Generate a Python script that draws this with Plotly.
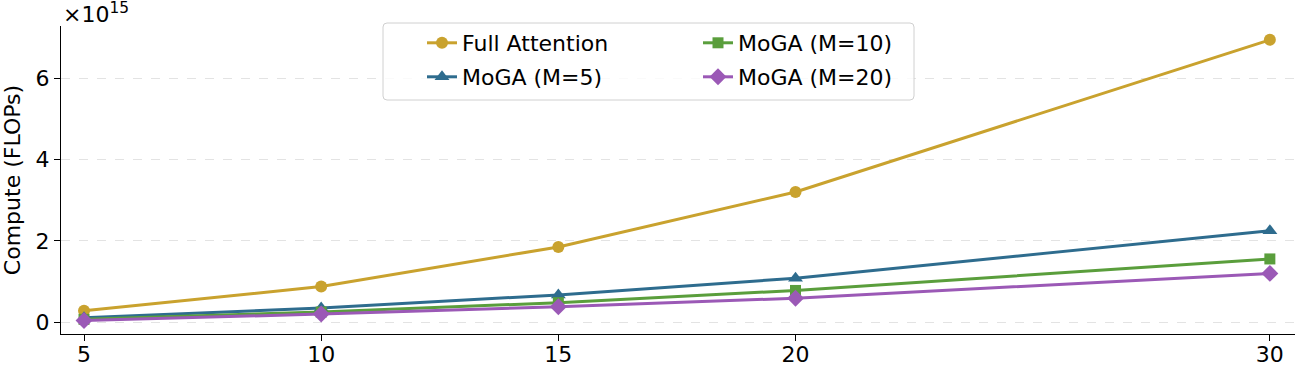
import plotly.graph_objects as go

x_vals = [5, 10, 15, 20, 30]
full_attention = [0.28, 0.875, 1.85, 3.2, 6.94]
moga_m5 = [0.11, 0.35, 0.67, 1.08, 2.25]
moga_m10 = [0.07, 0.25, 0.48, 0.78, 1.555]
moga_m20 = [0.04, 0.20, 0.38, 0.59, 1.20]
x_ticks = [5, 10, 15, 20, 30]
y_ticks = [0, 2, 4, 6]

names = ["Full Attention", "MoGA (M=5)", "MoGA (M=10)", "MoGA (M=20)"]
series = [full_attention, moga_m5, moga_m10, moga_m20]
colors = ["#C9A22E", "#2E6C8E", "#5A9E3C", "#9B59B6"]
symbols = ["circle", "triangle-up", "square", "diamond"]
msizes = [12, 13, 11, 13]
legends = ["legend", "legend3", "legend2", "legend4"]

FONT = "DejaVu Sans"
fig = go.Figure()
for n, s, c, sym, ms, lg in zip(names, series, colors, symbols, msizes, legends):
    fig.add_trace(go.Scatter(
        x=x_vals, y=s, name=n, mode="lines+markers",
        line=dict(color=c, width=3),
        marker=dict(symbol=sym, size=ms, color=c),
        legend=lg,
    ))

W, H = 1297, 367
L, R, T, B = 61, 2, 26, 33
pw, ph = W - L - R, H - T - B

def px_x(p):
    return (p - L) / pw

def px_y(p):
    return (H - B - p) / ph

def rounded_box(x0, y0, x1, y1, r):
    # pixel box -> paper-coordinate SVG path with rounded corners
    X = px_x
    Y = px_y
    return (f"M {X(x0 + r)},{Y(y0)} L {X(x1 - r)},{Y(y0)} "
            f"Q {X(x1)},{Y(y0)} {X(x1)},{Y(y0 + r)} L {X(x1)},{Y(y1 - r)} "
            f"Q {X(x1)},{Y(y1)} {X(x1 - r)},{Y(y1)} L {X(x0 + r)},{Y(y1)} "
            f"Q {X(x0)},{Y(y1)} {X(x0)},{Y(y1 - r)} L {X(x0)},{Y(y0 + r)} "
            f"Q {X(x0)},{Y(y0)} {X(x0 + r)},{Y(y0)} Z")

leg_common = dict(bgcolor="rgba(0,0,0,0)", borderwidth=0,
                  font=dict(family=FONT, size=22, color="black"),
                  xanchor="left", yanchor="middle", itemwidth=30)

fig.update_layout(
    width=W, height=H,
    margin=dict(l=L, r=R, t=T, b=B, autoexpand=False),
    paper_bgcolor="white", plot_bgcolor="white",
    font=dict(family=FONT, size=22, color="black"),
    showlegend=True,
    legend=dict(x=px_x(422), y=px_y(43), **leg_common),
    legend3=dict(x=px_x(422), y=px_y(77), **leg_common),
    legend2=dict(x=px_x(698), y=px_y(43), **leg_common),
    legend4=dict(x=px_x(698), y=px_y(77), **leg_common),
    xaxis=dict(
        range=[4.515, 30.53], tickvals=x_ticks, showgrid=False, zeroline=False,
        showline=True, linecolor="black", linewidth=1.2, automargin=False,
        ticks="outside", ticklen=6, tickwidth=1.2, tickcolor="black",
        ticklabelstandoff=-6,
        tickfont=dict(family=FONT, size=22, color="black"),
    ),
    yaxis=dict(
        range=[-0.29, 7.28], tickvals=y_ticks, zeroline=False, automargin=False,
        showgrid=True, gridcolor="#e3e3e3", gridwidth=1, griddash="dash",
        showline=True, linecolor="black", linewidth=1.2,
        ticks="outside", ticklen=6, tickwidth=1.2, tickcolor="black",
        tickfont=dict(family=FONT, size=22, color="black"),
        title=dict(text="Compute (FLOPs)", font=dict(family=FONT, size=22), standoff=8),
    ),
    shapes=[dict(type="path", xref="paper", yref="paper",
                 path=rounded_box(383, 23, 914, 100, 4),
                 line=dict(color="#d0d0d0", width=1), fillcolor="rgba(255,255,255,0.8)",
                 layer="above")],
    annotations=[dict(text="×10<sup>15</sup>", xref="paper", yref="paper",
                      x=0, y=px_y(13), xanchor="left", yanchor="middle",
                      showarrow=False, font=dict(family=FONT, size=22, color="black"))],
)

fig.write_html("out.html", config={"displayModeBar": False},
               post_script="document.body.style.margin='0';")
